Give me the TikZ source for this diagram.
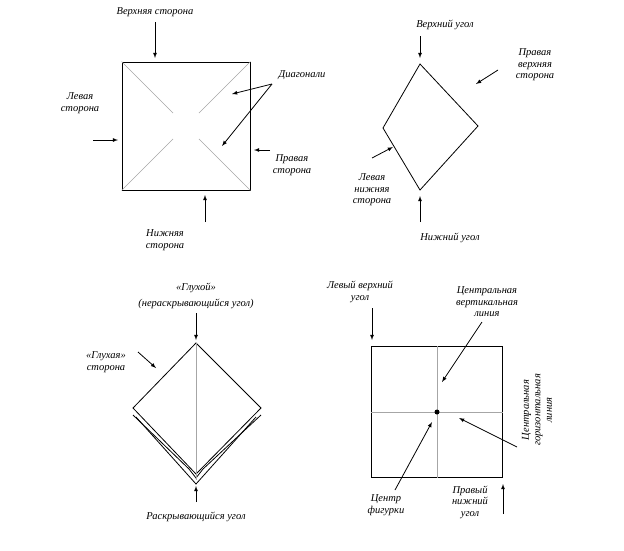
\documentclass[tikz,border=0pt]{standalone}
\usepackage{fontspec}
\setmainfont{Liberation Serif}
\usetikzlibrary{calc}
\begin{document}
\begin{tikzpicture}[x=1pt,y=-1pt,
  lbl/.style={font=\itshape\fontsize{10.5}{11.5}\selectfont, align=center, inner sep=1pt},
  arr/.style={draw, thick, -latex},
  fold/.style={draw, gray!70, thin}]
\useasboundingbox (0,0) rectangle (624,550);
% top left square
\node[draw, thick, minimum size=128pt, inner sep=0] (sq1) at (186,126) {};
\coordinate (c1) at (186,126);
\path[fold] (sq1.north west) -- ($(c1)!0.2!(sq1.north west)$);
\path[fold] (sq1.north east) -- ($(c1)!0.2!(sq1.north east)$);
\path[fold] (sq1.south west) -- ($(c1)!0.2!(sq1.south west)$);
\path[fold] (sq1.south east) -- ($(c1)!0.2!(sq1.south east)$);
\node[lbl] (t1) at (155,12) {Верхняя сторона};
\node[lbl] (d1) at (302,75) {Диагонали};
\node[lbl] (l1) at (80,103) {Левая\\сторона};
\node[lbl] (r1) at (292,165) {Правая\\сторона};
\node[lbl] (b1) at (165,240) {Нижняя\\сторона};
\coordinate (ta) at (155,22); \coordinate (tb) at (155,58);
\coordinate (da) at (272,84); \coordinate (db) at (232,94); \coordinate (dc) at (222,146);
\coordinate (la) at (93,140); \coordinate (lb) at (118,140);
\coordinate (ra) at (270,150); \coordinate (rb) at (254,150);
\coordinate (ba) at (205,222); \coordinate (bb) at (205,195);
\path[arr] (ta) -- (tb);
\path[arr] (da) -- (db);
\path[arr] (da) -- (dc);
\path[arr] (la) -- (lb);
\path[arr] (ra) -- (rb);
\path[arr] (ba) -- (bb);
% top right diamond
\coordinate (dt) at (420,64); \coordinate (dr) at (478,126);
\coordinate (dbo) at (420,190); \coordinate (dl) at (383,128);
\draw[thick] (dt) -- (dr) -- (dbo) -- (dl) -- cycle;
\node[lbl] (t2) at (445,25) {Верхний угол};
\node[lbl] (r2) at (535,65) {Правая\\верхняя\\сторона};
\node[lbl] (l2) at (372,190) {Левая\\нижняя\\сторона};
\node[lbl] (b2) at (450,238) {Нижний угол};
\coordinate (t2a) at (420,36); \coordinate (t2b) at (420,58);
\coordinate (r2a) at (498,70); \coordinate (r2b) at (476,84);
\coordinate (l2a) at (372,158); \coordinate (l2b) at (393,147);
\coordinate (b2a) at (420,222); \coordinate (b2b) at (420,196);
\path[arr] (t2a) -- (t2b);
\path[arr] (r2a) -- (r2b);
\path[arr] (l2a) -- (l2b);
\path[arr] (b2a) -- (b2b);
% bottom left folded diamond
\coordinate (ft) at (196,343); \coordinate (fl) at (133,408);
\coordinate (fr) at (261,408); \coordinate (fb) at (196,474);
\draw[thick] (133,415) -- (189,469) -- (196,478) -- (203,469) -- (261,415);
\draw[thick] (136,417) -- (196,484) -- (256,417);
\draw[fill=white, thick] (ft) -- (fr) -- (fb) -- (fl) -- cycle;
\path[fold] (ft) -- (196,480);
\node[lbl] (t3) at (196,288) {«Глухой»};
\node[lbl] (t3b) at (196,304) {(нераскрывающийся угол)};
\node[lbl] (l3) at (106,362) {«Глухая»\\сторона};
\node[lbl] (b3) at (196,517) {Раскрывающийся угол};
\coordinate (t3a) at (196,313); \coordinate (t3c) at (196,340);
\coordinate (l3a) at (138,352); \coordinate (l3c) at (156,368);
\coordinate (b3a) at (196,502); \coordinate (b3c) at (196,486);
\path[arr] (t3a) -- (t3c);
\path[arr] (l3a) -- (l3c);
\path[arr] (b3a) -- (b3c);
% bottom right square
\node[draw, thick, minimum size=131pt, inner sep=0] (sq4) at (437,412) {};
\path[fold] (sq4.north) -- (sq4.south);
\path[fold] (sq4.west) -- (sq4.east);
\fill (437,412) circle (2.5pt);
\node[lbl] (t4) at (360,292) {Левый верхний\\угол};
\node[lbl] (v4) at (487,302) {Центральная\\вертикальная\\линия};
\node[lbl, rotate=90] (h4) at (537,410) {Центральная\\горизонтальная\\линия};
\node[lbl] (c4) at (386,505) {Центр\\фигурки};
\node[lbl] (b4) at (470,502) {Правый\\нижний\\угол};
\coordinate (t4a) at (372,308); \coordinate (t4b) at (372,340);
\coordinate (v4a) at (482,322); \coordinate (v4b) at (442,382);
\coordinate (h4a) at (517,447); \coordinate (h4b) at (459,418);
\coordinate (c4a) at (395,490); \coordinate (c4b) at (432,422);
\coordinate (b4a) at (503,514); \coordinate (b4b) at (503,484);
\path[arr] (t4a) -- (t4b);
\path[arr] (v4a) -- (v4b);
\path[arr] (h4a) -- (h4b);
\path[arr] (c4a) -- (c4b);
\path[arr] (b4a) -- (b4b);
\end{tikzpicture}
\end{document}
